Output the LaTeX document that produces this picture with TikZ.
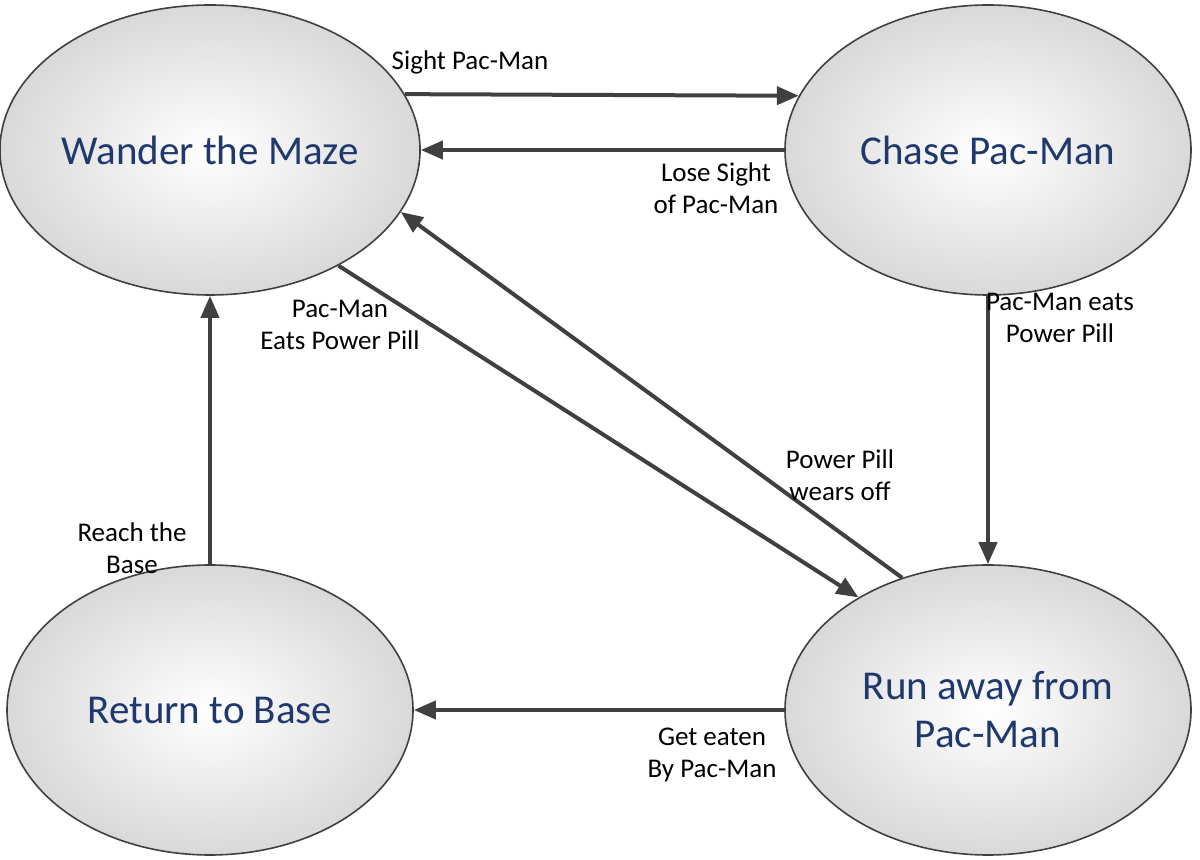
\documentclass[tikz,border=0pt]{standalone}
\usepackage{fontspec}
\setmainfont{Carlito}
\usetikzlibrary{shapes.geometric}
\usetikzlibrary{arrows.meta}
\definecolor{statetext}{RGB}{31,56,110}
\definecolor{linegray}{RGB}{64,64,64}
\tikzset{
	state/.style={ellipse,draw=linegray,line width=0.8pt,inner color=white,outer color=gray!30,inner sep=0pt,
		minimum width=203pt,minimum height=145pt,text=statetext,font=\fontsize{20.5}{24}\selectfont,align=center},
	trans/.style={draw=linegray,line width=2pt,-{Triangle[length=11pt,width=9pt]}},
	lab/.style={font=\fontsize{13.5}{16}\selectfont,align=center,text=black}
}
\begin{document}
\begin{tikzpicture}[x=0.5pt,y=-0.5pt]
	\useasboundingbox (0,0) rectangle (1200,860);
	% the four states
	\node[state] (wander) at (210,150) {Wander the Maze};
	\node[state] (chase) at (988,150) {Chase Pac-Man};
	\node[state] (ret) at (210,710) {Return to Base};
	\node[state] (run) at (988,710) {Run away from\\Pac-Man};
	% transitions
	\draw[trans] (wander.16) -- (chase.164);% sight
	\draw[trans] (chase.west) -- (wander.east);% lose sight
	\draw[trans] (wander.-42) -- (run.139);% eats pill
	\draw[trans] (run.123) -- (wander.-18);% wears off
	\draw[trans] (chase.south) -- (run.north);
	\draw[trans] (run.west) -- (ret.east);
	\draw[trans] (ret.north) -- (wander.south);
	% labels
	\node[lab] (l1) at (470,62) {Sight Pac-Man};
	\node[lab] (l2) at (716,188) {Lose Sight\\of Pac-Man};
	\node[lab] (l3) at (340,325) {Pac-Man\\Eats Power Pill};
	\node[lab] (l4) at (840,475) {Power Pill\\wears off};
	\node[lab] (l5) at (1060,318) {Pac-Man eats\\Power Pill};
	\node[lab] (l6) at (712,755) {Get eaten\\By Pac-Man};
	\node[lab] (l7) at (132,548) {Reach the\\Base};
\end{tikzpicture}
\end{document}
